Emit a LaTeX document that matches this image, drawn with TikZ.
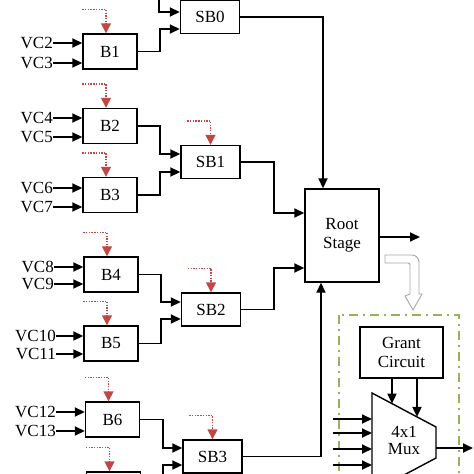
\documentclass[tikz,border=0pt]{standalone}
\usepackage{fontspec}
\setmainfont{Liberation Serif}
\usepackage{tikz}
\usetikzlibrary{arrows.meta, positioning}
\usepackage{xcolor}
\definecolor{ctrlred}{RGB}{192,72,68}
\definecolor{grantgreen}{RGB}{150,176,92}

\begin{document}
\begin{tikzpicture}
[x = 1pt, y = -1pt,
 blk/.style = {rectangle, draw=black, line width=1.4pt, minimum width=54pt, minimum height=35pt, inner sep=0pt, font=\fontsize{17}{19}\selectfont},
 sblk/.style = {blk, minimum width=59pt, minimum height=33pt},
 lbl/.style = {inner sep=0pt, anchor=east, font=\fontsize{17}{19}\selectfont},
 wire/.style = {line width=1.8pt, -{Triangle[length=10pt,width=9pt]}},
 ctrl/.style = {ctrlred, line width=1.4pt, dash pattern=on 1.4pt off 1.3pt, -{Triangle[length=10pt,width=10pt]}},
 grantbox/.style = {grantgreen, line width=1.8pt, dash pattern=on 9pt off 5pt on 2pt off 5pt}]
\useasboundingbox (0,0) rectangle (474,474);

% first level blocks
\node[blk] (b1) at (110,51.5) {B1};
\node[blk] (b2) at (110,126) {B2};
\node[blk] (b3) at (110,195) {B3};
\node[blk] (b4) at (111,274.5) {B4};
\node[blk] (b5) at (111,343.5) {B5};
\node[blk] (b6) at (112.5,419.5) {B6};
\node[blk] (b7) at (113.5,489.5) {};

% second level blocks
\node[sblk] (sb0) at (210,17) {SB0};
\node[sblk] (sb1) at (210.5,162) {SB1};
\node[sblk] (sb2) at (211,309.5) {SB2};
\node[sblk] (sb3) at (212.5,456.5) {SB3};

\node[blk, minimum width=74pt, minimum height=93pt, align=center] (root) at (342,235.5) {Root\\Stage};
\node[blk, minimum width=83pt, minimum height=51pt, align=center] (grant) at (401.5,352.5) {Grant\\Circuit};

% inputs
\node[lbl] (vc2) at (53,43) {VC2};
\node[lbl] (vc3) at (53,63) {VC3};
\node[lbl] (vc4) at (53,118) {VC4};
\node[lbl] (vc5) at (53,137) {VC5};
\node[lbl] (vc6) at (53,188) {VC6};
\node[lbl] (vc7) at (53,207) {VC7};
\node[lbl] (vc8) at (54,267) {VC8};
\node[lbl] (vc9) at (54,284) {VC9};
\node[lbl] (vc10) at (56,336) {VC10};
\node[lbl] (vc11) at (56,354) {VC11};
\node[lbl] (vc12) at (56,412) {VC12};
\node[lbl] (vc13) at (56,431) {VC13};

\draw[wire] (vc2.east) -- (vc2.east -| b1.west);
\draw[wire] (vc3.east) -- (vc3.east -| b1.west);
\draw[wire] (vc4.east) -- (vc4.east -| b2.west);
\draw[wire] (vc5.east) -- (vc5.east -| b2.west);
\draw[wire] (vc6.east) -- (vc6.east -| b3.west);
\draw[wire] (vc7.east) -- (vc7.east -| b3.west);
\draw[wire] (vc8.east) -- (vc8.east -| b4.west);
\draw[wire] (vc9.east) -- (vc9.east -| b4.west);
\draw[wire] (vc10.east) -- (vc10.east -| b5.west);
\draw[wire] (vc11.east) -- (vc11.east -| b5.west);
\draw[wire] (vc12.east) -- (vc12.east -| b6.west);
\draw[wire] (vc13.east) -- (vc13.east -| b6.west);

% control signals
\draw[ctrl] ([yshift=24pt]b1.north west) -| ([xshift=-4pt]b1.north);
\draw[ctrl] ([yshift=24pt]b2.north west) -| ([xshift=-4pt]b2.north);
\draw[ctrl] ([yshift=24pt]b3.north west) -| ([xshift=-4pt]b3.north);
\draw[ctrl] ([yshift=24pt]b4.north west) -| ([xshift=-4pt]b4.north);
\draw[ctrl] ([yshift=24pt]b5.north west) -| ([xshift=-4pt]b5.north);
\draw[ctrl] ([yshift=24pt]b6.north west) -| ([xshift=-4pt]b6.north);
\draw[ctrl] ([yshift=24pt]b7.north west) -| ([xshift=-4pt]b7.north);
\draw[ctrl] ([xshift=7pt,yshift=24pt]sb1.north west) -| (sb1.north);
\draw[ctrl] ([xshift=7pt,yshift=24pt]sb2.north west) -| (sb2.north);
\draw[ctrl] ([xshift=7pt,yshift=24pt]sb3.north west) -| (sb3.north);

% first to second level
\coordinate (sb0in) at (159,-5);
\draw[wire] (sb0in) |- ([yshift=5pt]sb0.west);
\draw[wire] (b1.east) -- ++(22,0) |- ([yshift=-12pt]sb0.west);
\draw[wire] (b2.east) -- ++(22,0) |- ([yshift=8pt]sb1.west);
\draw[wire] (b3.east) -- ++(22,0) |- ([yshift=-10pt]sb1.west);
\draw[wire] (b4.east) -- ++(22,0) |- ([yshift=7.5pt]sb2.west);
\draw[wire] (b5.east) -- ++(22,0) |- ([yshift=-9.5pt]sb2.west);
\draw[wire] (b6.east) -- ++(23,0) |- ([yshift=8.5pt]sb3.west);
\draw[wire] (b7.east) -- ++(22,0) |- ([yshift=-8.5pt]sb3.west);

% second level to root
\draw[wire] (sb0.east) -| ([xshift=-19pt]root.north);
\draw[wire] (sb1.east) -- ++(33,0) |- ([yshift=22.5pt]root.west);
\draw[wire] (sb2.east) -- ++(32.5,0) |- ([yshift=-32.5pt]root.west);
\draw[wire] (sb3.east) -| ([xshift=-21pt]root.south);
\coordinate (rootout) at (420,237);
\draw[wire] (root.east |- rootout) -- (rootout);

% hollow arrow
\draw[gray!70, line width=0.9pt, fill=white] (385,255) [rounded corners=7pt] -- (419,255) [sharp corners] -- (419,294) -- (422,294) -- (413,310) -- (405,296) -- (410,294) [rounded corners=2pt] -- (410,263) [sharp corners] -- (385,263) -- cycle;

% arbiter
\draw[grantbox] (339,315) rectangle (459,530);
\coordinate (mtl) at (372,393);
\coordinate (mtr) at (436,427);
\coordinate (mbr) at (436,458);
\coordinate (mbl) at (372,492);
\draw[line width=1.4pt] (mtl) -- (mtr) -- (mbr) -- (mbl) -- cycle;
\node[align=center, font=\fontsize{17}{17}\selectfont] (mux) at (404,440) {4x1\\Mux};

\coordinate (m1) at (333,419);
\coordinate (m2) at (333,433);
\coordinate (m3) at (333,449);
\coordinate (m4) at (333,465);
\draw[wire] (m1) -- (m1 -| mtl);
\draw[wire] (m2) -- (m2 -| mtl);
\draw[wire] (m3) -- (m3 -| mtl);
\draw[wire] (m4) -- (m4 -| mtl);

\coordinate (ga) at (392,403.6);
\coordinate (gb) at (417,416.9);
\draw[wire] (grant.south -| ga) -- (ga);
\draw[wire] (grant.south -| gb) -- (gb);

\coordinate (mo) at (436,448);
\coordinate (muxout) at (473,448);
\draw[wire] (mo) -- (muxout);

\end{tikzpicture}
\end{document}
